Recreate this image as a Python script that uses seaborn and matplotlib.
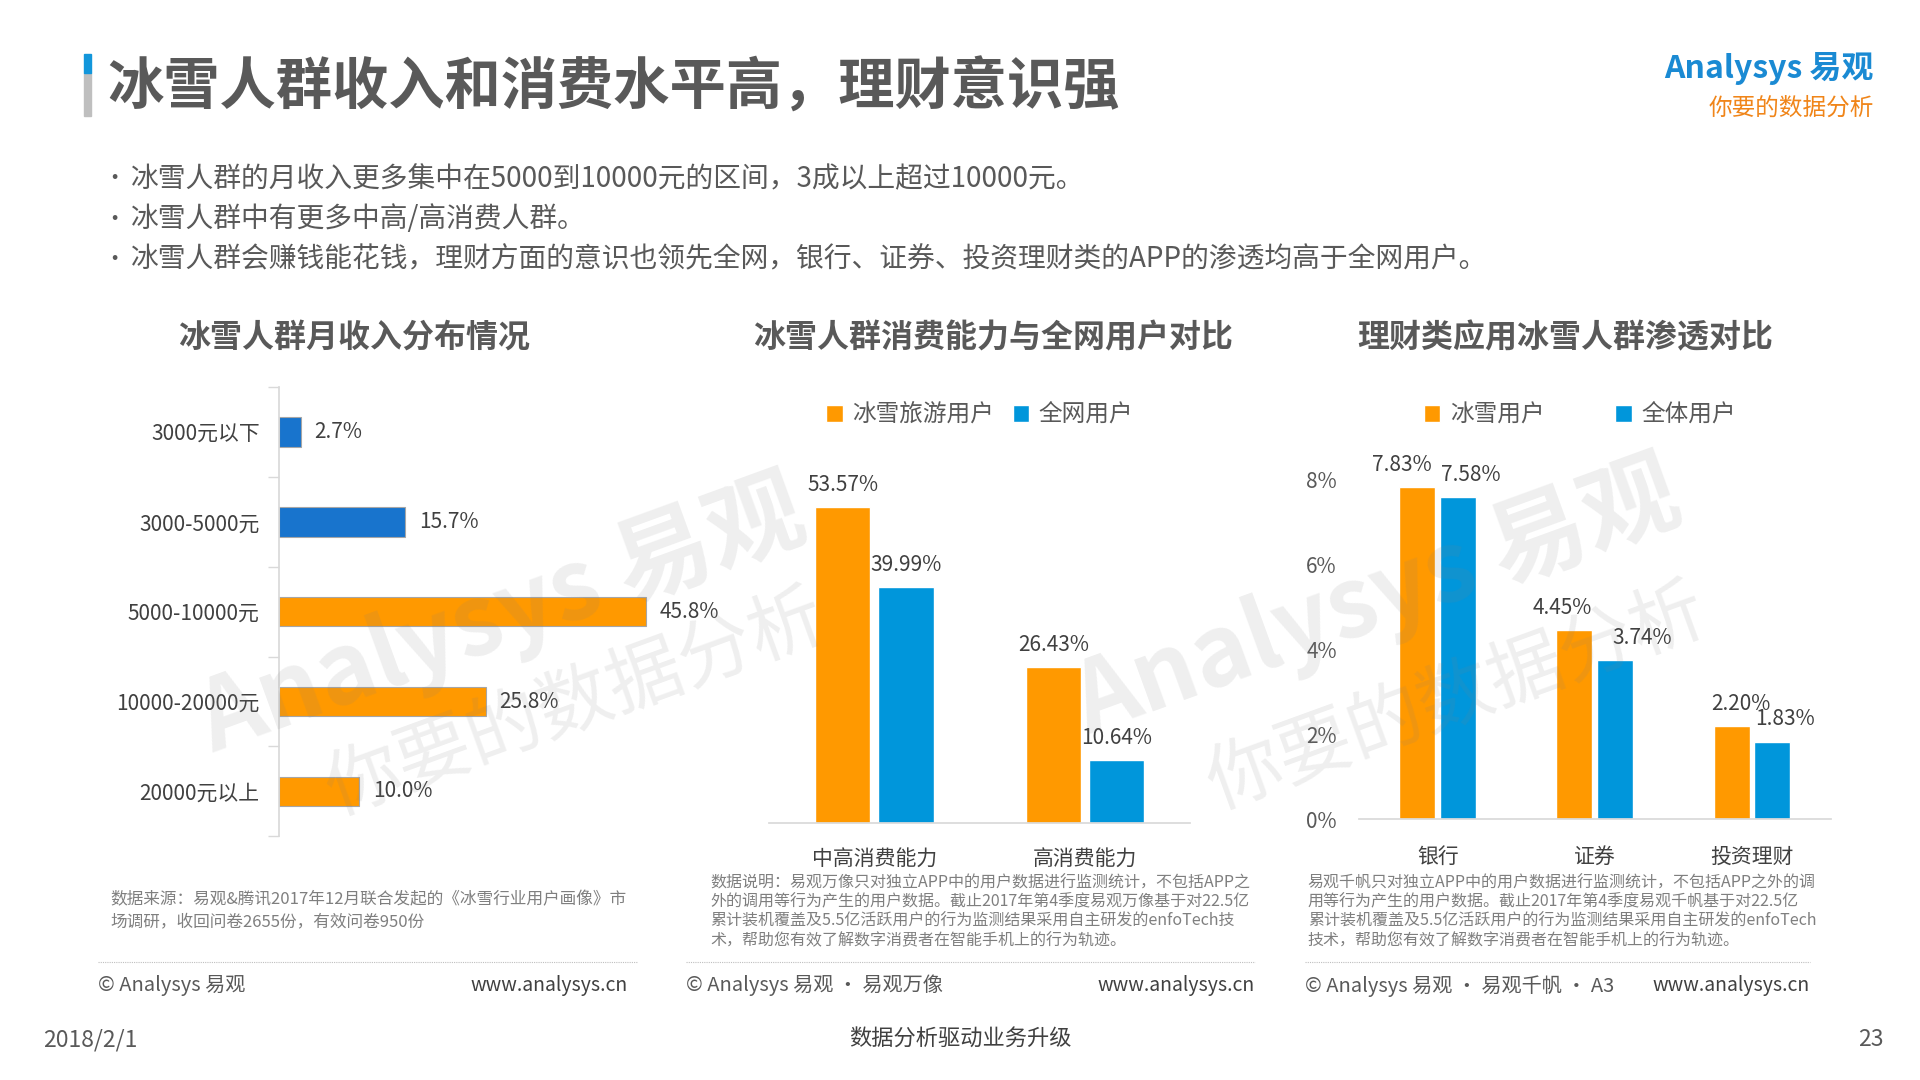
import pandas as pd
import seaborn as sns
import matplotlib.pyplot as plt
from matplotlib.lines import Line2D
from matplotlib.patches import Rectangle

sns.set_theme(style='white')
plt.rcParams['font.family'] = ['Noto Sans CJK SC', 'DejaVu Sans']

# data
income_cats = ['3000元以下', '3000-5000元', '5000-10000元', '10000-20000元', '20000元以上']
income_vals = [2.7, 15.7, 45.8, 25.8, 10.0]

cons_cats = ['中高消费能力', '高消费能力']
cons_series = ['冰雪旅游用户', '全网用户']
cons_snow = [53.57, 26.43]
cons_all = [39.99, 10.64]

fin_cats = ['银行', '证券', '投资理财']
fin_series = ['冰雪用户', '全体用户']
fin_snow = [7.83, 4.45, 2.20]
fin_all = [7.58, 3.74, 1.83]
fin_ticks = [0, 2, 4, 6, 8]

ORANGE = '#FF9900'
BLUE = '#0096DB'
BLUE_DARK = '#1874CD'
GRAY = '#595959'
LIGHT = '#D9D9D9'


def fx(x):
    return x / 1568


def fy(y):
    return 1 - y / 882


fig = plt.figure(figsize=(19.2, 10.8), dpi=100)

# header
fig.add_artist(Rectangle((fx(69), fy(95)), fx(5), fy(60) - fy(95), color='#BFBFBF', transform=fig.transFigure))
fig.add_artist(Rectangle((fx(69), fy(60)), fx(5), fy(44) - fy(60), color='#1296DB', transform=fig.transFigure))
fig.text(fx(88), fy(72), '冰雪人群收入和消费水平高，理财意识强', fontsize=40.5, fontweight='bold',
         color=GRAY, va='center', ha='left')
fig.text(fx(1530), fy(56), 'Analysys 易观', fontsize=23, fontweight='bold', style='italic',
         color='#1A8AD3', ha='right', va='center')
fig.text(fx(1530), fy(88), '你要的数据分析', fontsize=17, style='italic',
         color='#F08519', ha='right', va='center')

bullets = ['冰雪人群的月收入更多集中在5000到10000元的区间，3成以上超过10000元。',
           '冰雪人群中有更多中高/高消费人群。',
           '冰雪人群会赚钱能花钱，理财方面的意识也领先全网，银行、证券、投资理财类的APP的渗透均高于全网用户。']
for i, b in enumerate(bullets):
    yy = fy(146 + i * 33)
    fig.text(fx(84), yy, '•', fontsize=16, color=GRAY, va='center')
    fig.text(fx(107), yy, b, fontsize=20, color=GRAY, va='center')

# panel titles
for cx, t in [(289, '冰雪人群月收入分布情况'), (811, '冰雪人群消费能力与全网用户对比'), (1278, '理财类应用冰雪人群渗透对比')]:
    fig.text(fx(cx), fy(276), t, fontsize=23, fontweight='bold', color=GRAY, ha='center', va='center')

# chart 1: income
ax1 = fig.add_axes([fx(228), fy(683), fx(568) - fx(228), fy(316) - fy(683)])
inc_colors = [BLUE_DARK, BLUE_DARK, ORANGE, ORANGE, ORANGE]
sns.barplot(x=income_vals, y=income_cats, hue=income_cats, palette=inc_colors, legend=False,
            orient='h', width=0.33, saturation=1, edgecolor='#A6A6A6', linewidth=0.8, ax=ax1)
for c in ax1.containers:
    ax1.bar_label(c, fmt='%.1f%%', padding=10, fontsize=15, color='#404040')
ax1.set_xlim(0, 52)
ax1.set_ylim(4.5, -0.5)
ax1.set_xlabel('')
ax1.set_ylabel('')
ax1.set_xticks([])
for s in ['top', 'right', 'bottom']:
    ax1.spines[s].set_visible(False)
ax1.spines['left'].set_color(LIGHT)
ax1.set_yticks([-0.5, 0.5, 1.5, 2.5, 3.5, 4.5], minor=True)
ax1.tick_params(axis='y', which='minor', length=8, color=LIGHT, left=True)
ax1.tick_params(axis='y', which='major', length=0, pad=14, labelsize=15, labelcolor='#404040')
ax1.patch.set_alpha(0)

# chart 2: consumption
df2 = pd.DataFrame({
    'cat': cons_cats * 2,
    'series': [cons_series[0]] * 2 + [cons_series[1]] * 2,
    'val': cons_snow + cons_all,
})
ax2 = fig.add_axes([fx(628), fy(672), fx(972) - fx(628), fy(383) - fy(672)])
sns.barplot(data=df2, x='cat', y='val', hue='series', palette=[ORANGE, BLUE],
            width=0.6, gap=0.12, saturation=1, ax=ax2)
for c in ax2.containers:
    ax2.bar_label(c, fmt='%.2f%%', padding=8, fontsize=15, color='#404040')
ax2.set_ylim(0, 60)
ax2.set_xlim(-0.5, 1.5)
ax2.set_xlabel('')
ax2.set_ylabel('')
ax2.set_yticks([])
for s in ['top', 'right', 'left']:
    ax2.spines[s].set_visible(False)
ax2.spines['bottom'].set_color(LIGHT)
ax2.tick_params(axis='x', length=0, pad=19, labelsize=15, labelcolor='#404040')
ax2.legend(loc='center', bbox_to_anchor=(fx(800), fy(339)), bbox_transform=fig.transFigure,
           ncol=2, frameon=False, fontsize=17, handlelength=0.7, handleheight=0.7,
           handletextpad=0.4, columnspacing=0.8, labelcolor=GRAY)
ax2.patch.set_alpha(0)

# chart 3: finance apps
df3 = pd.DataFrame({
    'cat': fin_cats * 2,
    'series': [fin_series[0]] * 3 + [fin_series[1]] * 3,
    'val': fin_snow + fin_all,
})
ax3 = fig.add_axes([fx(1110), fy(669), fx(1495) - fx(1110), fy(357) - fy(669)])
sns.barplot(data=df3, x='cat', y='val', hue='series', palette=[ORANGE, BLUE],
            width=0.52, gap=0.12, saturation=1, ax=ax3)
# label shifts (points) so neighbouring labels stay apart, as in the original
label_shift = [[-11, -9, 7], [9, 19, 9]]
for c, shifts in zip(ax3.containers, label_shift):
    anns = ax3.bar_label(c, fmt='%.2f%%', padding=8, fontsize=15, color='#404040')
    for a, dx in zip(anns, shifts):
        a.xyann = (dx, a.xyann[1])
ax3.set_ylim(0, 9)
ax3.set_xlim(-0.5, 2.5)
ax3.set_yticks(fin_ticks)
ax3.set_yticklabels([f'{t}%' for t in fin_ticks])
ax3.set_xlabel('')
ax3.set_ylabel('')
for s in ['top', 'right', 'left']:
    ax3.spines[s].set_visible(False)
ax3.spines['bottom'].set_color(LIGHT)
ax3.tick_params(axis='x', length=0, pad=19, labelsize=15, labelcolor='#404040')
ax3.tick_params(axis='y', length=0, pad=16, labelsize=15, labelcolor=GRAY)
ax3.legend(loc='center', bbox_to_anchor=(fx(1290), fy(339)), bbox_transform=fig.transFigure,
           ncol=2, frameon=False, fontsize=17, handlelength=0.7, handleheight=0.7,
           handletextpad=0.4, columnspacing=3.0, labelcolor=GRAY)
ax3.patch.set_alpha(0)

# notes and footers
fig.text(fx(90), fy(728), '数据来源：易观&腾讯2017年12月联合发起的《冰雪行业用户画像》市\n场调研，收回问卷2655份，有效问卷950份',
         fontsize=12, color='#7F7F7F', ha='left', va='top', linespacing=1.35)
notes = [
    (580, 714, '数据说明：易观万像只对独立APP中的用户数据进行监测统计，不包括APP之\n外的调用等行为产生的用户数据。截止2017年第4季度易观万像基于对22.5亿\n'
               '累计装机覆盖及5.5亿活跃用户的行为监测结果采用自主研发的enfoTech技\n术，帮助您有效了解数字消费者在智能手机上的行为轨迹。'),
    (1068, 714, '易观千帆只对独立APP中的用户数据进行监测统计，不包括APP之外的调\n用等行为产生的用户数据。截止2017年第4季度易观千帆基于对22.5亿\n'
                '累计装机覆盖及5.5亿活跃用户的行为监测结果采用自主研发的enfoTech\n技术，帮助您有效了解数字消费者在智能手机上的行为轨迹。'),
]
for x, y, t in notes:
    fig.text(fx(x), fy(y), t, fontsize=11.5, color='#7F7F7F', ha='left', va='top', linespacing=1.17)

footers = [(80, 520, 513, '© Analysys 易观'), (560, 1025, 1025, '© Analysys 易观 · 易观万像'),
           (1066, 1478, 1478, '© Analysys 易观 · 易观千帆 · A3')]
for x0, x1, xw, t in footers:
    fig.add_artist(Line2D([fx(x0), fx(x1)], [fy(786), fy(786)], transform=fig.transFigure,
                          color='#BFBFBF', linestyle=(0, (1, 1)), linewidth=0.8))
    fig.text(fx(x0), fy(805), t, fontsize=14.5, color=GRAY, ha='left', va='center')
    fig.text(fx(xw), fy(805), 'www.analysys.cn', fontsize=14, color='#404040', ha='right', va='center')

fig.text(fx(35), fy(849), '2018/2/1', fontsize=16.5, color=GRAY, va='center')
fig.text(fx(784), fy(849), '数据分析驱动业务升级', fontsize=16, color='#404040', ha='center', va='center')
fig.text(fx(1538), fy(849), '23', fontsize=16.5, color=GRAY, ha='right', va='center')

# watermarks
for cx1, cy1, cx2, cy2 in [(410, 505, 470, 575), (1125, 490, 1190, 570)]:
    fig.text(fx(cx1), fy(cy1), 'Analysys 易观', fontsize=70, fontweight='bold', rotation=20,
             color='#808080', alpha=0.13, ha='center', va='center', zorder=20)
    fig.text(fx(cx2), fy(cy2), '你要的数据分析', fontsize=54, rotation=20,
             color='#808080', alpha=0.13, ha='center', va='center', zorder=20)

fig.savefig('out.png', dpi=100)
